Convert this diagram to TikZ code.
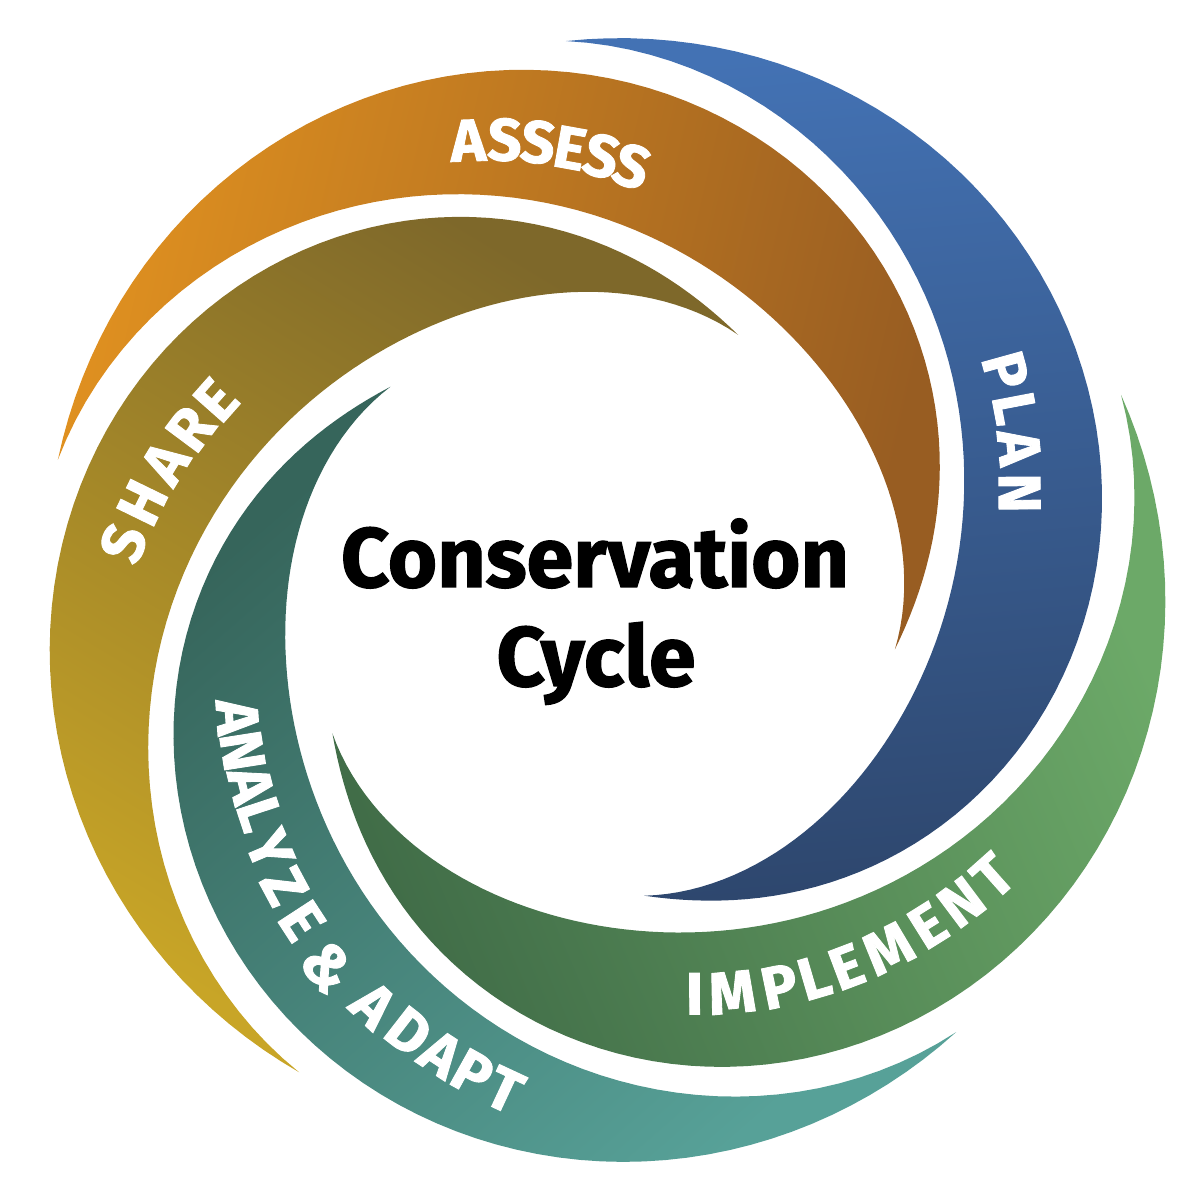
\documentclass[tikz,border=0pt]{standalone}
\usepackage{fontspec}
\setmainfont{Fira Sans}
\newfontfamily\heavyfont{Fira Sans}[BoldFeatures={FakeBold=1.5}]
\usepackage{tikz}

\definecolor{assessA}{HTML}{DF9020}
\definecolor{assessM}{HTML}{D98B21}
\definecolor{assessB}{HTML}{985D22}
\definecolor{planA}{HTML}{4372B4}
\definecolor{planM}{HTML}{4069AA}
\definecolor{planB}{HTML}{2E476E}
\definecolor{implA}{HTML}{6CA968}
\definecolor{implM}{HTML}{65A062}
\definecolor{implB}{HTML}{416D48}
\definecolor{adaptA}{HTML}{57A198}
\definecolor{adaptM}{HTML}{4D8F86}
\definecolor{adaptB}{HTML}{36655B}
\definecolor{shareA}{HTML}{C8A527}
\definecolor{shareM}{HTML}{B69A29}
\definecolor{shareB}{HTML}{7E682A}

\tikzset{
  bandletter/.style={text=white, inner sep=0pt, font=\heavyfont\bfseries\fontsize{17}{19}\selectfont},
  titletext/.style={anchor=base, font=\heavyfont\bfseries\fontsize{24}{28}\selectfont},
}

\begin{document}
\begin{tikzpicture}[x=0.01cm, y=0.01cm,
  % outer and inner radius of a swoosh, \p runs 0..4 from wide tip to thin tip
  declare function={
    ro(\p)=560-\p-28*\p*(\p-1)+1.5*\p*(\p-1)*(\p-2)+1.7917*\p*(\p-1)*(\p-2)*(\p-3);
    ri(\p)=560-96.5*\p-4*\p*(\p-1)+11.017*\p*(\p-1)*(\p-2)-3.808*\p*(\p-1)*(\p-2)*(\p-3);
  }]
  \useasboundingbox (-600,-601) rectangle (600,600);

  % swooshes: wide tip angle / colours / shading angle
  \foreach \a/\ca/\cm/\cb/\sa in {165.5/assessA/assessM/assessB/77, 93.5/planA/planM/planB/5,
      21.5/implA/implM/implB/-67, -50.5/adaptA/adaptM/adaptB/-139,
      -122.5/shareA/shareM/shareB/149}
  {
    \shade[top color=\ca, middle color=\cm, bottom color=\cb, shading angle=\sa]
      plot[domain=0:4, samples=81] ({\a-43.75*\x}:{ro(\x)})
      -- plot[domain=4:0, samples=81] ({\a-43.75*\x}:{ri(\x)}) -- cycle;
  }

  % Assess
  \foreach \ch/\t/\r/\rot [count=\i] in {A/106.0/478/2.0, S/101.7/470/-2.3,
      S/97.7/462/-6.3, E/93.8/453/-10.2, S/89.8/444/-14.2, S/85.8/435/-18.2}
    \node[bandletter, rotate=\rot] (assess\i) at (\t:\r) {\ch};
  % Plan
  \foreach \ch/\t/\r/\rot [count=\i] in {P/29.5/466/-74.5, L/24.8/457/-79.2,
      A/20.0/446/-84.0, N/14.3/433/-89.7}
    \node[bandletter, rotate=\rot] (plan\i) at (\t:\r) {\ch};
  % Implement
  \foreach \ch/\t/\r/\rot [count=\i] in {I/-76.5/405/0.3, M/-71.4/414/5.4,
      P/-65.1/426/11.7, L/-60.4/434/16.4, E/-56.1/442/20.7, M/-50.4/452/26.4,
      E/-44.8/462/32.0, N/-39.9/471/36.9, T/-35.1/480/41.7}
    \node[bandletter, rotate=\rot] (impl\i) at (\t:\r) {\ch};
  % Analyze & adapt
  \foreach \ch/\t/\r/\rot [count=\i] in {A/-162.1/381/-86.1, N/-157.1/388/-81.1,
      A/-152.1/395/-76.1, L/-147.8/402/-71.8, Y/-142.9/414/-66.9, Z/-137.8/426/-61.8,
      E/-132.9/438/-56.9, \&/-126.6/457/-50.6, A/-119.2/464/-43.2, D/-113.9/472/-37.9,
      A/-109.3/481/-33.3, P/-105.1/490/-29.1, T/-101.0/499/-25.0}
    \node[bandletter, rotate=\rot] (adapt\i) at (\t:\r) {\ch};
  % Share
  \foreach \ch/\t/\r/\rot [count=\i] in {S/173.2/480/69.2, H/168.0/468/64.0,
      A/162.5/456/58.5, R/157.3/444/53.3, E/152.5/433/48.5}
    \node[bandletter, rotate=\rot] (share\i) at (\t:\r) {\ch};

  % title
  \node[titletext] (title1) at (-5,13) {Conservation};
  \node[titletext] (title2) at (-4,-86) {Cycle};
\end{tikzpicture}
\end{document}
